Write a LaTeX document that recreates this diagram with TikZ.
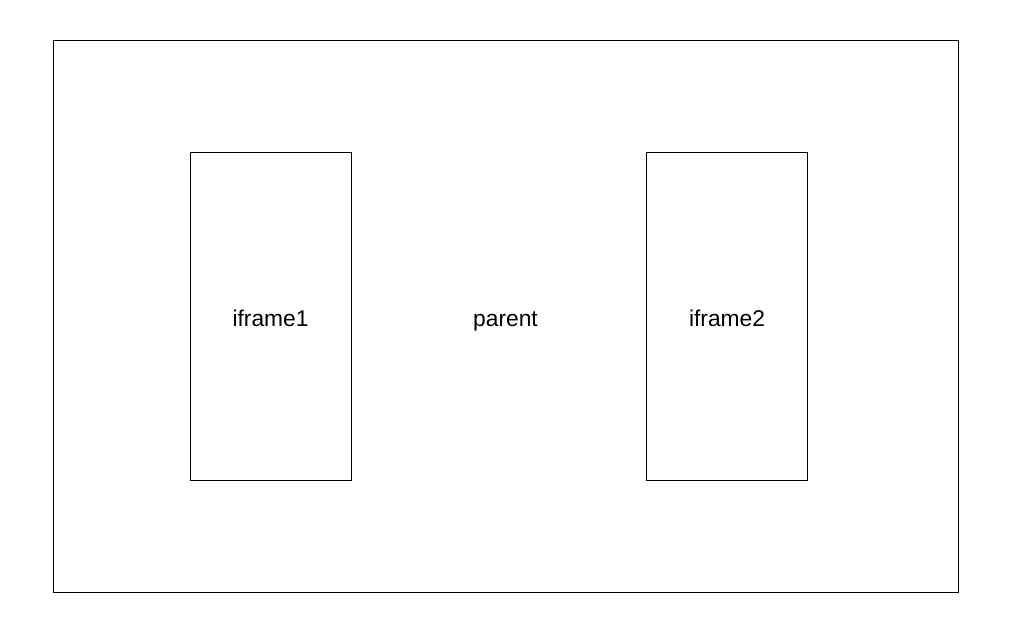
\documentclass[tikz,border=0pt]{standalone}
\usepackage{fontspec}
\setmainfont{Liberation Sans}
\usepackage{xcolor}
\usepackage{tikz}
\definecolor{border}{HTML}{000000}
\definecolor{text}{HTML}{000000}
\tikzset{
  outerbox/.style={draw=border, line width=0.65pt, minimum width=22.625cm, minimum height=13.8cm, inner sep=0pt, text=text, text height=15.6pt, text depth=0pt, font=\fontsize{16.2}{19}\selectfont},
  framebox/.style={draw=border, line width=0.65pt, minimum width=4.025cm, minimum height=8.2cm, inner sep=0pt, text=text, text height=15.6pt, text depth=0pt, font=\fontsize{16.2}{19}\selectfont}
}
\begin{document}
\begin{tikzpicture}
  \useasboundingbox (0,0) rectangle (25.6,16.05);

  \node[outerbox] (parent) at (12.6375,8.15) {parent};
  \node[framebox] (iframeA) at (6.7625,8.15) {iframe1};
  \node[framebox] (iframeB) at (18.175,8.15) {iframe2};
\end{tikzpicture}
\end{document}
